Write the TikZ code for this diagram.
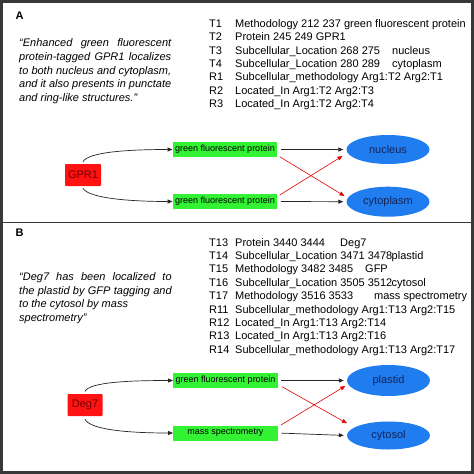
\documentclass[tikz,border=0pt]{standalone}
\usepackage{fontspec}
\setmainfont{Liberation Sans}
\usetikzlibrary{arrows.meta,shapes.geometric,calc}
\definecolor{boxred}{rgb}{1,0.07,0.07}
\definecolor{boxgreen}{rgb}{0.2,0.95,0.2}
\definecolor{ellblue}{rgb}{0.12,0.49,0.94}
\definecolor{navytext}{rgb}{0.08,0.14,0.35}
\definecolor{redtext}{rgb}{0.45,0,0}
\definecolor{framegray}{rgb}{0.22,0.22,0.22}
\begin{document}
\begin{tikzpicture}[x=1pt,y=-1pt,
  txt/.style={anchor=base west,inner sep=0pt,font=\fontsize{11}{13}\selectfont},
  quote/.style={anchor=base west,inner sep=0pt,font=\fontsize{11}{13}\selectfont\itshape},
  panellabel/.style={anchor=west,inner sep=0pt,font=\fontsize{11}{13}\selectfont\bfseries},
  protbox/.style={draw=none,fill=boxred,minimum width=36pt,minimum height=22pt,inner sep=0pt,rounded corners=0.8pt,text=redtext,font=\fontsize{11}{13}\selectfont},
  methbox/.style={draw=none,fill=boxgreen,minimum width=104.5pt,minimum height=14.5pt,inner sep=0pt,font=\fontsize{9}{11}\selectfont},
  locell/.style={ellipse,draw=none,fill=ellblue,minimum width=83pt,minimum height=29pt,inner sep=0pt,text=navytext,font=\fontsize{11}{13}\selectfont},
  blackarr/.style={draw=black!85,line width=0.7pt,-{Triangle[length=5pt,width=4pt]}},
  redarr/.style={draw=red!90!black,line width=0.6pt,-{Triangle[length=5pt,width=4pt]}}
]
\useasboundingbox (0,0) rectangle (474,474);
\fill[white] (0,0) rectangle (474,474);
% frame
\draw[framegray,line width=2.6pt] (1.3,1.3) rectangle (472.7,472.7);
\draw[framegray,line width=1.3pt] (1.3,222.3) -- (472.7,222.3);

% ===== Panel A =====
\node[panellabel] (labA) at (15.5,15.5) {A};
\node[quote] (qa1) at (19,46.7) {\makebox[152pt][s]{“Enhanced green fluorescent}};
\node[quote] (qa2) at (19,60.4) {\makebox[152pt][s]{protein-tagged GPR1 localizes}};
\node[quote] (qa3) at (19,74) {\makebox[152pt][s]{to both nucleus and cytoplasm,}};
\node[quote] (qa4) at (19,87.7) {\makebox[152pt][s]{and it also presents in punctate}};
\node[quote] (qa5) at (19,101.3) {and ring-like structures.”};

\node[txt] (la1) at (209,27.3) {T1};
\node[txt] (ta1) at (235,27.3) {Methodology 212 237 green fluorescent protein};
\node[txt] (la2) at (209,40.6) {T2};
\node[txt] (ta2) at (235,40.6) {Protein 245 249 GPR1};
\node[txt] (la3) at (209,54) {T3};
\node[txt] (ta3) at (235,54) {Subcellular\_Location 268 275};
\node[txt] (xa3) at (392,54) {nucleus};
\node[txt] (la4) at (209,67.3) {T4};
\node[txt] (ta4) at (235,67.3) {Subcellular\_Location 280 289};
\node[txt] (xa4) at (392,67.3) {cytoplasm};
\node[txt] (la5) at (209,80.6) {R1};
\node[txt] (ta5) at (235,80.6) {Subcellular\_methodology Arg1:T2 Arg2:T1};
\node[txt] (la6) at (209,94) {R2};
\node[txt] (ta6) at (235,94) {Located\_In Arg1:T2 Arg2:T3};
\node[txt] (la7) at (209,107.3) {R3};
\node[txt] (ta7) at (235,107.3) {Located\_In Arg1:T2 Arg2:T4};

\node[protbox] (gpr) at (83,175) {GPR1};
\node[methbox] (gfpA1) at (225,149.5) {green fluorescent protein};
\node[methbox] (gfpA2) at (225,201.5) {green fluorescent protein};
\node[locell] (nuc) at (388,149.5) {nucleus};
\node[locell,minimum height=30pt] (cyt) at (388,201.7) {cytoplasm};

\draw[blackarr] ($(gpr.north)+(0,-2)$) .. controls (88,152) and (128,149.5) .. (gfpA1.west);
\draw[blackarr] ($(gpr.south)+(0,2)$) .. controls (88,198) and (128,201.5) .. (gfpA2.west);
\draw[blackarr,shorten <=3.5pt,shorten >=3pt] (gfpA1.east) -- (nuc.west);
\draw[blackarr,shorten <=3.5pt,shorten >=3pt] (gfpA2.east) -- (cyt.west);
\coordinate (ra1s) at (279.7,156.7);
\coordinate (ra1e) at (344.5,196);
\coordinate (ra2s) at (279.7,195);
\coordinate (ra2e) at (342.5,156);
\draw[redarr] (ra1s) -- (ra1e);
\draw[redarr] (ra2s) -- (ra2e);

% ===== Panel B =====
\node[panellabel] (labB) at (15.5,232.3) {B};
\node[quote] (qb1) at (19,280.7) {\makebox[152.5pt][s]{“Deg7 has been localized to}};
\node[quote] (qb2) at (19,294) {\makebox[152.5pt][s]{the plastid by GFP tagging and}};
\node[quote] (qb3) at (19,307.3) {to the cytosol by mass};
\node[quote] (qb4) at (19,321.3) {spectrometry”};

\node[txt] (lb1) at (209,246) {T13};
\node[txt] (tb1) at (235,246) {Protein 3440 3444};
\node[txt] (xb1) at (340,246) {Deg7};
\node[txt] (lb2) at (209,259.4) {T14};
\node[txt] (tb2) at (235,259.4) {Subcellular\_Location 3471 3478};
\node[txt] (xb2) at (391.5,259.4) {plastid};
\node[txt] (lb3) at (209,272.8) {T15};
\node[txt] (tb3) at (235,272.8) {Methodology 3482 3485};
\node[txt] (xb3) at (365,272.8) {GFP};
\node[txt] (lb4) at (209,286.2) {T16};
\node[txt] (tb4) at (235,286.2) {Subcellular\_Location 3505 3512};
\node[txt] (xb4) at (391.5,286.2) {cytosol};
\node[txt] (lb5) at (209,299.6) {T17};
\node[txt] (tb5) at (235,299.6) {Methodology 3516 3533};
\node[txt] (xb5) at (374,299.6) {mass spectrometry};
\node[txt] (lb6) at (209,313) {R11};
\node[txt] (tb6) at (235,313) {Subcellular\_methodology Arg1:T13 Arg2:T15};
\node[txt] (lb7) at (209,326.4) {R12};
\node[txt] (tb7) at (235,326.4) {Located\_In Arg1:T13 Arg2:T14};
\node[txt] (lb8) at (209,339.8) {R13};
\node[txt] (tb8) at (235,339.8) {Located\_In Arg1:T13 Arg2:T16};
\node[txt] (lb9) at (209,353.2) {R14};
\node[txt] (tb9) at (235,353.2) {Subcellular\_methodology Arg1:T13 Arg2:T17};

\node[protbox,minimum width=35pt] (deg) at (85,405) {Deg7};
\node[methbox,minimum height=15pt] (gfpB) at (225.5,380.5) {green fluorescent protein};
\node[methbox,minimum height=15pt] (ms) at (225.5,433) {mass spectrometry};
\node[locell,minimum height=31pt] (pla) at (388.5,380.5) {plastid};
\node[locell,minimum height=28pt] (cys) at (388.5,435.5) {cytosol};

\draw[blackarr] ($(deg.north)+(0,-2.5)$) .. controls (90,382) and (130,380.5) .. (gfpB.west);
\draw[blackarr] ($(deg.south)+(0,3)$) .. controls (90,430) and (130,433) .. (ms.west);
\draw[blackarr,shorten <=3.5pt,shorten >=3pt] (gfpB.east) -- (pla.west);
\draw[blackarr,shorten <=3.5pt,shorten >=3pt] (ms.east) -- (cys.west);
\coordinate (rb1s) at (282,386.7);
\coordinate (rb1e) at (347,423.3);
\coordinate (rb2s) at (281,425);
\coordinate (rb2e) at (345.3,386);
\draw[redarr] (rb1s) -- (rb1e);
\draw[redarr] (rb2s) -- (rb2e);
\end{tikzpicture}
\end{document}
